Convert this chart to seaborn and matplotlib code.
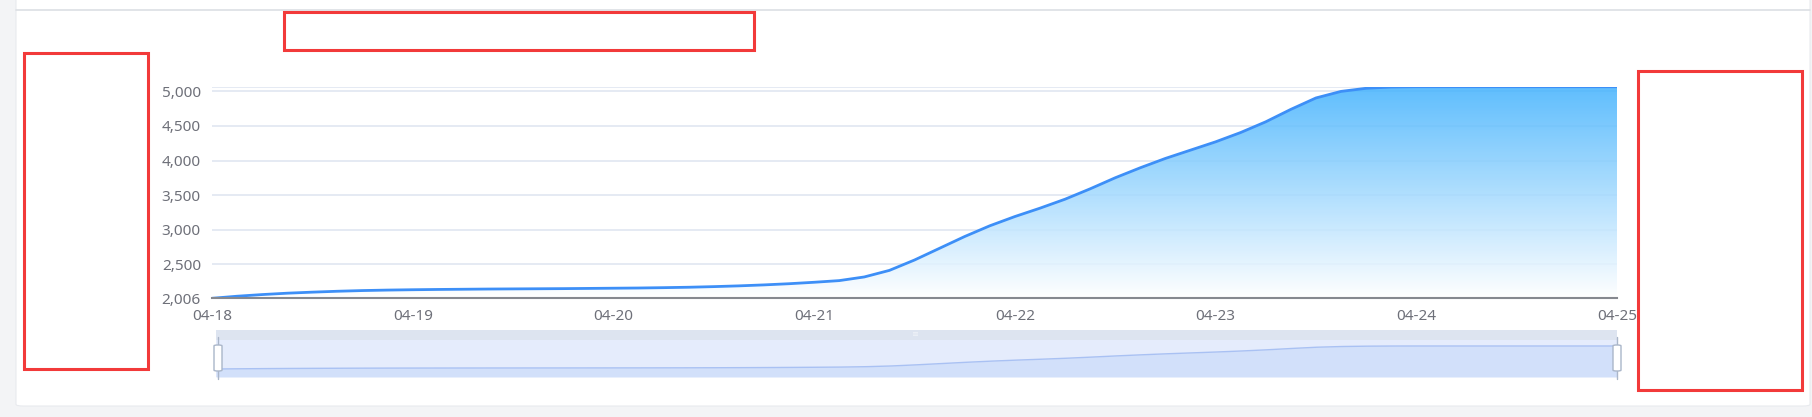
import pandas as pd
import numpy as np
import matplotlib
matplotlib.use("Agg")
import matplotlib.pyplot as plt
import matplotlib.dates as mdates
from matplotlib.patches import FancyBboxPatch, Rectangle
from matplotlib.colors import LinearSegmentedColormap
import seaborn as sns

# Series (3-hour steps, 04-18 .. 04-25)
times = pd.date_range("2023-04-18", "2023-04-25", freq="3h")
values = [2006, 2036, 2060, 2080, 2095, 2108, 2118, 2125,
          2130, 2134, 2137, 2140, 2142, 2144, 2146, 2149,
          2152, 2155, 2160, 2166, 2175, 2186, 2200, 2217,
          2238, 2262, 2315, 2410, 2560, 2730, 2900, 3055,
          3189, 3310, 3440, 3590, 3750, 3895, 4030, 4150,
          4270, 4405, 4560, 4740, 4905, 5000, 5045, 5063,
          5068, 5068, 5068, 5068, 5068, 5068, 5068, 5068,
          5068]
y_ticks = [2006, 2500, 3000, 3500, 4000, 4500, 5000]

df = pd.DataFrame({"time": times, "value": values})

sns.set_style("white")
plt.rcParams["font.family"] = ["Noto Sans", "DejaVu Sans"]

W, H = 1812, 417
fig = plt.figure(figsize=(W / 100, H / 100), dpi=100)
fig.patch.set_facecolor("#f3f4f6")

# card background
card = FancyBboxPatch((16 / W, 1 - 406 / H), (1810 - 16) / W, 406 / H + 0.05,
                      boxstyle="round,pad=0,rounding_size=0.004",
                      transform=fig.transFigure, facecolor="white",
                      edgecolor="#e8eaee", linewidth=0.8, zorder=-5)
fig.patches.append(card)
fig.add_artist(plt.Line2D([16 / W, 1810 / W], [1 - 9.5 / H, 1 - 9.5 / H],
                          transform=fig.transFigure, color="#dcdfe4", lw=1.2,
                          zorder=-4))

# main chart
ax = fig.add_axes([212 / W, 1 - 298.3 / H, (1617 - 212) / W, (298.3 - 86.7) / H])
ax.set_facecolor("none")
ax.set_zorder(1)
ymin, ymax = min(values), max(values)
x0, x1 = mdates.date2num(times[0]), mdates.date2num(times[-1])

for t in y_ticks[1:] + [ymax]:
    ax.axhline(t, color="#e0e6f1", lw=1.2, zorder=0)

poly = ax.fill_between(df["time"], df["value"], ymin, color="none", lw=0)
grad_cmap = LinearSegmentedColormap.from_list("g", ["#ffffff", "#42b2fd"])
grad = np.linspace(0, 1, 256).reshape(-1, 1)
im = ax.imshow(grad, cmap=grad_cmap, aspect="auto", origin="lower",
               extent=[x0, x1, ymin, ymax], alpha=0.85, zorder=1)
im.set_clip_path(poly.get_paths()[0], transform=ax.transData)

sns.lineplot(data=df, x="time", y="value", ax=ax, color="#3d8ff7",
             linewidth=2.0, zorder=3)

ax.set_xlim(times[0], times[-1])
ax.set_ylim(ymin, ymax)
ax.set_yticks(y_ticks)
ax.set_yticklabels([f"{v:,}" for v in y_ticks])
ax.xaxis.set_major_locator(mdates.DayLocator())
ax.xaxis.set_major_formatter(mdates.DateFormatter("%m-%d"))
ax.set_xlabel("")
ax.set_ylabel("")
for s in ["top", "right", "left"]:
    ax.spines[s].set_visible(False)
ax.spines["bottom"].set_color("#85888f")
ax.spines["bottom"].set_linewidth(1.5)
ax.spines["bottom"].set_zorder(4)
ax.tick_params(axis="x", length=5, width=1, color="#85888f", pad=3,
               labelsize=11, labelcolor="#6e7079")
ax.tick_params(axis="y", length=0, pad=8, labelsize=11, labelcolor="#6e7079")

# data zoom slider
sl = fig.add_axes([216 / W, 1 - 377 / H, (1617 - 216) / W, (377 - 330) / H])
sl.set_zorder(1)
sl.set_facecolor("#e5ecfc")
lo = ymin - (377 - 369) * (ymax - ymin) / 23
hi = ymax + (346 - 330) * (ymax - ymin) / 23
sl.fill_between(df["time"], df["value"], lo, color="#d2e0fa", lw=0)
sns.lineplot(data=df, x="time", y="value", ax=sl, color="#a9c1f3", linewidth=1.0)
sl.axhspan(ymax + (346 - 340) * (ymax - ymin) / 23, hi, color="#dde4f0", lw=0)
sl.set_xlim(times[0], times[-1])
sl.set_ylim(lo, hi)
sl.set_xticks([])
sl.set_yticks([])
sl.set_xlabel("")
sl.set_ylabel("")
for s in sl.spines.values():
    s.set_visible(False)

for hx in (218, 1617):
    fig.add_artist(plt.Line2D([hx / W, hx / W], [1 - 379 / H, 1 - 337 / H],
                              transform=fig.transFigure, color="#aab6c9", lw=1,
                              zorder=4))
    fig.patches.append(FancyBboxPatch(((hx - 4) / W, 1 - 371 / H), 8 / W, 26 / H,
                                      boxstyle="round,pad=0,rounding_size=0.002",
                                      transform=fig.transFigure, facecolor="white",
                                      edgecolor="#aab6c9", lw=1, zorder=5))
fig.text(916 / W, 1 - 335 / H, "III", fontsize=4, color="#ffffff",
         ha="center", va="center", zorder=5)

# red highlight boxes
for (rx0, ry0, rx1, ry1) in [(24, 53, 148, 369), (284, 12, 754, 50),
                             (1638, 71, 1802, 390)]:
    fig.patches.append(Rectangle((rx0 / W, 1 - ry1 / H), (rx1 - rx0) / W,
                                 (ry1 - ry0) / H, transform=fig.transFigure,
                                 fill=False, edgecolor="#f23a3a", lw=2.2,
                                 zorder=10))

fig.savefig("out.png", dpi=100)
